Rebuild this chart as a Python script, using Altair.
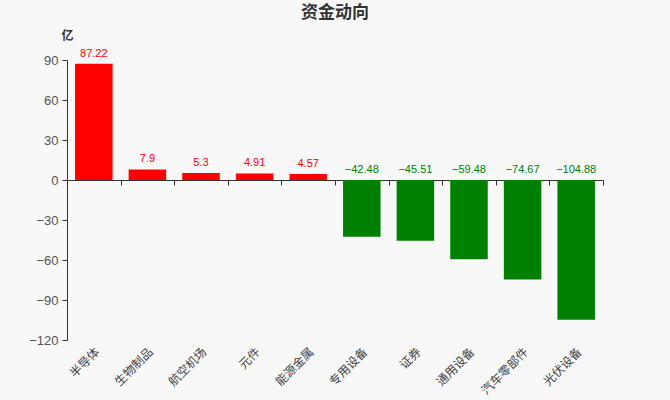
import altair as alt
import pandas as pd

categories = ["半导体", "生物制品", "航空机场", "元件", "能源金属",
              "专用设备", "证券", "通用设备", "汽车零部件", "光伏设备"]
values = [87.22, 7.9, 5.3, 4.91, 4.57, -42.48, -45.51, -59.48, -74.67, -104.88]
y_ticks = [90, 60, 30, 0, -30, -60, -90, -120]

df = pd.DataFrame({"cat": categories, "val": values})
df["label"] = [str(v).replace("-", "\u2212") for v in values]
df["lab_y"] = [max(v, 0) for v in values]
df["sign"] = ["pos" if v >= 0 else "neg" for v in values]

FONT = "Liberation Sans, Noto Sans CJK SC, sans-serif"

xscale = alt.Scale(paddingInner=0, paddingOuter=0)
yscale = alt.Scale(domain=[-120, 90], nice=False, zero=False)
color = alt.Color("sign:N", scale=alt.Scale(domain=["pos", "neg"], range=["#ff0000", "#008000"]), legend=None)

yaxis = alt.Axis(values=y_ticks, grid=False, title="亿", titleAngle=0,
                 titleX=0, titleY=-18, titleAlign="center", titleBaseline="bottom",
                 titleFontSize=12, titleFont=FONT, titleColor="#333", titleFontWeight="bold",
                 labelFontSize=13, labelColor="#555", labelFont=FONT, labelOverlap=False,
                 labelFlush=False,
                 domainColor="#333", tickColor="#333", tickSize=5, labelPadding=4)

bars = alt.Chart(df).mark_bar(width={"band": 0.7}).encode(
    x=alt.X("cat:N", sort=categories, scale=xscale,
            axis=alt.Axis(title=None, labelAngle=-45, domain=False, ticks=False,
                          labelFontSize=12, labelColor="#444", labelFont=FONT, labelPadding=6)),
    y=alt.Y("val:Q", scale=yscale, axis=yaxis),
    color=color,
)

texts = alt.Chart(df).mark_text(baseline="bottom", dy=-5, fontSize=11, font=FONT).encode(
    x=alt.X("cat:N", sort=categories, scale=xscale,
            axis=alt.Axis(title=None, labels=False, orient="bottom", offset=-160,
                          domain=True, ticks=True, tickBand="extent", tickSize=5,
                          domainColor="#333", tickColor="#333")),
    y=alt.Y("lab_y:Q", scale=yscale, axis=yaxis),
    text="label:N",
    color=color,
)

chart = alt.layer(bars, texts).resolve_axis(x="independent").properties(
    width=536, height=280,
    autosize=alt.AutoSizeParams(type="none"),
    padding={"left": 67, "top": 60, "right": 67, "bottom": 60},
    background="#f8f8f8",
    title=alt.TitleParams("资金动向", fontSize=17, fontWeight="bold", color="#333",
                          font=FONT, anchor="middle", offset=7),
).configure_view(stroke=None)

chart.save("out.html", embed_options={"renderer": "svg", "actions": False})
